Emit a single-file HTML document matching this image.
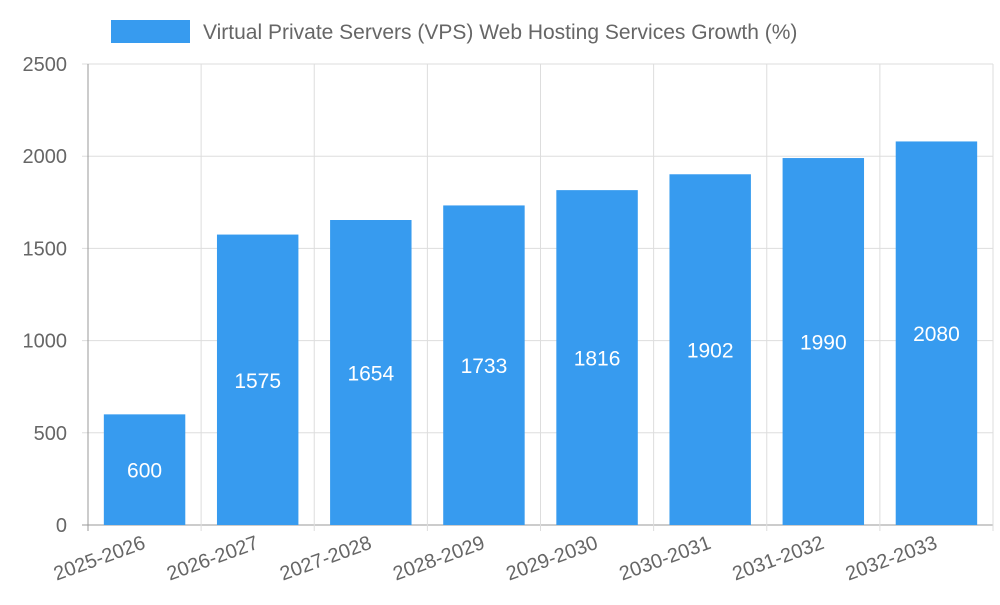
<!DOCTYPE html>
<html><head><meta charset="utf-8"><style>
body{margin:0;background:#fff;font-family:"Liberation Sans",sans-serif}
svg text{font-family:"Liberation Sans",sans-serif}
</style></head><body>
<svg id="chart" width="1000" height="600" xmlns="http://www.w3.org/2000/svg">
<g>
<rect x="111" y="20" width="79" height="23" fill="#379bef"/>
<text x="203" y="39" font-size="21" fill="#666">Virtual Private Servers (VPS) Web Hosting Services Growth (%)</text>
</g>
<g id="grid"></g>
<g id="bars"></g>
<g id="axes"></g>
</svg>
<script>
const categories=["2025-2026","2026-2027","2027-2028","2028-2029","2029-2030","2030-2031","2031-2032","2032-2033"];
const values=[600,1575,1654,1733,1816,1902,1990,2080];
const yTicks=[0,500,1000,1500,2000,2500];
const L=88,R=993,T=64,B=525,yMax=2500;
const NS="http://www.w3.org/2000/svg";
const step=(R-L)/categories.length;
const y=v=>B-(v/yMax)*(B-T);
const x=i=>L+step*i;
function mk(tag,attrs,parent,txt){const e=document.createElementNS(NS,tag);for(const k in attrs)e.setAttribute(k,attrs[k]);if(txt!==undefined)e.textContent=txt;parent.appendChild(e);return e;}
const grid=document.getElementById('grid'),bars=document.getElementById('bars'),axes=document.getElementById('axes');
yTicks.forEach(t=>{
 const l=mk('line',{x1:L-6,x2:R,y1:y(t),y2:y(t),stroke:t===0?'#999':'#ddd','stroke-width':1},grid);
 
 
 const tx=mk('text',{x:L-21,y:y(t)+7,'text-anchor':'end','font-size':20,fill:'#666'},axes,String(t));
 
 
});
for(let i=0;i<=categories.length;i++){
 const l=mk('line',{x1:x(i),x2:x(i),y1:T,y2:B+6,stroke:i===0?'#999':'#ddd','stroke-width':1},grid);
 
 
}
categories.forEach((c,i)=>{
 const bw=step*0.72,cx=x(i)+step/2;
 const r=mk('rect',{x:cx-bw/2,y:y(values[i]),width:bw,height:B-y(values[i]),fill:'#379bef'},bars);
 
 
 const v=mk('text',{x:cx,y:(y(values[i])+B)/2+8,'text-anchor':'middle','font-size':21,fill:'#fff'},bars,String(values[i]));
 
 
 const lx=cx+2,ly=548;
 const t=mk('text',{x:lx,y:ly,'text-anchor':'end','font-size':20,fill:'#666',transform:`rotate(-20 ${lx} ${ly})`},axes,c);
 
 
});
</script>
</body></html>
